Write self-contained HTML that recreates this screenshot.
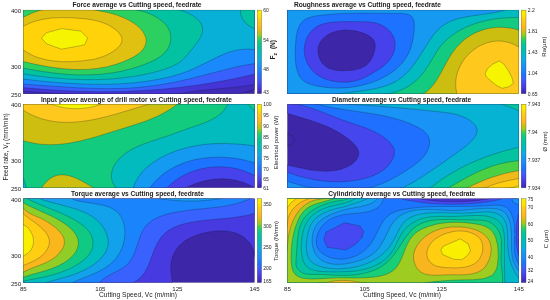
<!DOCTYPE html>
<html><head><meta charset="utf-8"><title>Contour plots</title>
<style>html,body{margin:0;padding:0;background:#fff;overflow:hidden}svg{display:block}text{font-family:"Liberation Sans",Arial,sans-serif}</style>
</head><body>
<svg width="550" height="300" viewBox="0 0 550 300">
<clipPath id="cp1"><rect x="23.3" y="10.1" width="231.2" height="83.6"/></clipPath>
<g clip-path="url(#cp1)" stroke="#101828" stroke-opacity="0.62" stroke-width="0.42" fill-rule="evenodd">
<rect x="22.3" y="9.1" width="233.2" height="85.6" fill="#3e26a8" stroke="none"/>
<path d="M22.7 9.5L255.1 9.5L255.1 89.4L253.3 89.8L241.3 93.5L236.3 94.3L22.7 94.3L22.7 10.1Z" fill="#412bb9"/>
<path d="M22.7 9.5L255.1 9.5L255.1 84.3L250.3 85.2L238.3 86.9L197.3 90.8L188.3 92L179.3 93.6L160.3 94.3L72.3 94.3L66.3 93.7L54.3 93.2L23.3 91.2L22.7 91.4L22.7 10.1Z" fill="#4535d7"/>
<path d="M22.7 9.5L255.1 9.5L255.1 74.1L236.3 78.3L216.6 82.1L198.3 85L179.3 87.4L164.3 89L147.3 90.3L123.3 91.5L99.3 91.7L78.3 91.3L60.3 90.4L43.3 89.3L22.7 87.5L22.7 10.1Z" fill="#3960fd"/>
<path d="M22.7 9.5L255.1 9.5L255.1 63.6L244.3 65.3L234.3 67.4L188.7 79.1L175.1 82.1L164.5 84.1L150.3 86.2L138.3 87.5L126.3 88.3L109.3 88.7L93.3 88.4L76.3 87.7L58.3 86.6L24.3 84.2L22.7 84L22.7 10.1Z" fill="#1a89fb"/>
<path d="M22.7 9.5L255.1 9.5L255.1 49.8L248.3 49.1L242.3 49.3L236.3 50.2L230.3 51.8L225.3 53.6L218.3 56.6L197.1 67.1L188 71.1L182.5 73.1L176.3 75.1L165.3 77.9L151.3 80.6L144.3 81.6L135.3 82.7L119.3 83.9L102.3 84.4L83.3 84.1L64.9 83.1L42.3 81.2L22.7 79L22.7 10.1Z" fill="#08b0d8"/>
<path d="M22.7 9.5L178.3 9.5L184.3 11.5L188.3 13.3L192.3 15.4L196.1 18.1L198.3 20.1L200.8 23.1L202.1 26.1L202.6 29.1L202.5 31.1L201.8 34.1L200.5 37.1L198.8 40.1L194.5 46.1L185.3 57.1L181 61.1L176.6 64.1L170.5 67.1L164.3 69.4L152.3 72.7L139.3 75.5L125.3 77.6L111.3 79L97.3 79.6L82.3 79.6L66.3 78.9L50.3 77.6L35.3 75.7L22.7 73.7L22.7 10.1ZM240.1 9.5L255.1 9.5L255.1 29.2L255.1 28.9L251.3 27.1L248.3 25.2L245.8 23.1L244 21.1L242.3 18.6L241.2 16.1L240.7 14.1L240.3 9.7Z" fill="#02c2a2"/>
<path d="M22.7 9.5L135.3 9.6L137.3 10.3L141.3 11L144.3 11.8L150.3 14L156.3 17L161.3 20.5L164.3 23.1L166.1 25.1L167.5 27.1L168.7 29.1L170.2 33.1L170.6 35.1L170.8 38.1L170.5 41.1L170.1 43.1L169.1 46.1L168.2 48.1L166.3 50.9L164.4 53.1L162.2 55.1L159.5 57.1L156.3 59.1L152.4 61.1L143.3 64.9L133.3 68.2L122 71.1L111.3 73L101.3 74.2L90.3 74.8L78.3 74.9L66.3 74.3L54.3 73.1L40.3 71.2L25.3 68.6L22.7 68L22.7 10.1Z" fill="#2cd061"/>
<path d="M41 10.1L43.3 9.5L92.3 9.5L107.3 12.4L112.3 13.7L116.8 15.1L122.1 17.1L126.6 19.1L130.4 21.1L135.1 24.1L137.7 26.1L140.8 29.1L143.1 32.1L144.8 35.1L145.8 38.1L146.1 40.1L145.9 43.1L145 46.1L143.3 49.1L141.6 51.1L139.4 53.1L136.6 55.1L132.3 57.6L127.2 60.1L122.4 62.1L116.8 64.1L107.3 66.7L97.3 68.4L87.3 69.4L81.3 69.5L75.3 69.5L63.3 68.8L50.3 67.1L34.3 64.1L24.3 61.8L22.7 61.2L22.7 17.6L32.3 12.9L40.3 10.3Z" fill="#e0c010"/>
<path d="M50.9 18.1L61.3 17.6L73.3 17.9L86.3 18.9L91.3 19.7L95.3 20.5L99.3 21.5L103.3 22.9L106.3 24.1L110.2 26.1L113.4 28.1L116 30.1L118.2 32.1L119.9 34.1L121.1 36.1L121.8 38.1L122 40.1L121.7 42.1L120.8 44.1L119.3 46.2L116.3 49.1L113.6 51.1L110.4 53.1L106.5 55.1L103.3 56.4L99.3 57.8L95.3 58.9L91.3 59.7L81.3 61L72.3 61.6L63.3 61.7L54.3 61.1L46.3 59.8L39.3 58L36.3 57L32.3 55.3L26.5 52.1L23.6 50.1L22.7 49.1L22.7 27.1L23.3 26.4L25.7 25.1L30 23.1L35.5 21.1L42.3 19.4L50.3 18.2Z" fill="#ffd20a"/>
<path d="M41.3 38L46.7 32.7L61.6 28.6L80.8 31.1L87.7 38L84.5 44.9L61.6 49.2L46.7 43.9Z" fill="#f6f400" stroke-linejoin="round"/>
</g>
<clipPath id="cp2"><rect x="23.3" y="104.2" width="231.2" height="83.6"/></clipPath>
<g clip-path="url(#cp2)" stroke="#101828" stroke-opacity="0.62" stroke-width="0.42" fill-rule="evenodd">
<rect x="22.3" y="103.2" width="233.2" height="85.6" fill="#3e26a8" stroke="none"/>
<path d="M22.7 103.6L255.1 103.6L255.1 188.4L255.1 188.2L254.3 187.6L248.3 184.4L244.3 182.7L240.3 181.4L236.3 180.3L231.3 179.5L227.3 179L222.3 178.8L218.3 178.9L213.3 179.3L208.3 180.1L203.3 181.1L199.3 182.2L194.3 183.9L188.3 186.5L185.2 188.2L184.3 188.4L22.7 188.4L22.7 104.2Z" fill="#4743ec"/>
<path d="M22.7 103.6L255.1 103.6L255.1 176.3L255.1 175.9L250.3 173.3L246.3 171.7L240.3 169.6L234.3 168.2L227.6 167.2L221.3 166.8L214.3 166.9L208.3 167.5L202.3 168.6L196.3 170.1L190.3 172.2L185.3 174.4L180.1 177.2L175.3 180.4L170.6 184.2L166.3 188.4L22.7 188.4L22.7 104.2Z" fill="#1c73ff"/>
<path d="M22.7 103.6L255.1 103.6L255.1 163.5L255.1 163.1L251.3 161.9L242.3 159.6L233.3 158.1L225.3 157.4L217.3 157.2L209.3 157.5L201.3 158.5L194.3 159.8L187.3 161.7L180.3 164.3L174.3 167L168.3 170.5L163 174.2L158.3 178.2L153.5 183.2L149.3 188.4L22.7 188.4L22.7 104.2Z" fill="#149af0"/>
<path d="M22.7 103.6L255.1 103.6L255.1 146.5L255.1 146.2L252.3 145.6L244.3 144.6L235.3 143.9L224.3 143.5L213.3 143.7L203.3 144.6L194.3 146L185.3 148.1L176.3 150.8L167.7 154.2L160.3 157.9L153.4 162.2L147.3 166.9L142.3 171.9L138.3 177.1L135.4 182.2L133.1 188.2L132.8 188.4L22.7 188.4L22.7 104.2Z" fill="#01bbbf"/>
<path d="M22.7 103.6L228.8 103.6L228.3 103.6L227.7 104.2L224.8 109.2L223.3 111.1L221.2 113.2L219.3 114.9L216.3 117L210.5 120.2L205.9 122.2L199.3 124.7L182.3 130.5L166.9 136.2L150.3 141.6L142.3 144.5L136.3 147.1L132 149.2L128.3 151.4L124.3 154.1L119.7 158.2L116.3 162.2L114.3 165.2L113.3 167.2L111.9 171.2L111.4 175.2L111.5 178.2L111.9 180.2L113 183.2L114.8 186.2L115.9 188.4L26.9 188.4L26.6 188.2L23.5 178.2L22.7 176.2L22.7 104.2ZM246.5 103.6L255.1 103.6L255.1 113.2L255.1 111.8L254.8 111.2L251.1 107.2L247.3 103.7Z" fill="#13cb7f"/>
<path d="M22.7 103.6L179.6 103.6L178.3 103.8L177.3 104.3L171.3 108.5L167.3 111L162.3 113.8L157.3 116.3L146.3 120.9L132.3 125.6L97.3 136.4L89.3 138.7L81.3 140.7L72.3 142.6L65.3 143.7L57.3 144.5L50.3 144.7L42.3 144.4L35.3 143.5L25.3 141.4L22.7 140.2L22.7 104.2ZM57.9 175.2L61.3 174.8L64.3 174.9L68.3 175.5L72.3 176.7L76.3 178.3L81.3 180.7L92.3 187L93.6 188.2L94.1 188.4L42 188.4L42.3 186.9L43.3 185.2L48.3 180L50.3 178.4L53.3 176.7L57.3 175.3Z" fill="#cebe10"/>
<path d="M22.7 103.6L150.5 103.6L149.3 103.8L147.3 104.6L117.3 113.7L107.3 116.4L99.3 118.4L90.3 120.2L82.3 121.4L74.3 122.2L67.3 122.4L58.3 122L50.3 120.9L42.3 119L35.3 116.5L29.3 113.7L22.7 110L22.7 104.2Z" fill="#ffc81c"/>
<path d="M47 103.6L104.2 103.6L102.3 103.8L95.3 106.1L88.3 107.7L82.3 108.4L75.3 108.7L69.3 108.4L64.3 107.8L58.3 106.4L51.3 104.1L49.3 103.6L47.3 103.6Z" fill="#f6f400"/>
</g>
<clipPath id="cp3"><rect x="23.3" y="198.8" width="231.2" height="83.8"/></clipPath>
<g clip-path="url(#cp3)" stroke="#101828" stroke-opacity="0.62" stroke-width="0.42" fill-rule="evenodd">
<rect x="22.3" y="197.8" width="233.2" height="85.8" fill="#3e26a8" stroke="none"/>
<path d="M22.7 198.2L255.1 198.2L255.1 258.3L255.1 257.4L254.3 255.7L253.7 251.8L253.2 249.8L251.9 246.8L250.2 243.8L247.8 240.8L244.5 237.8L241.6 235.8L238.3 234.1L234.8 232.8L230.3 231.7L226.3 231.1L221.3 230.8L216.3 231L211.3 231.6L206.3 232.5L201.1 233.8L197.3 235L192.7 236.8L188.5 238.8L185.1 240.8L182.3 242.9L179.3 245.6L177.3 248L175.4 250.8L173.8 253.8L172.6 256.8L171.5 260.8L171 263.8L170.8 266.8L170.9 269.8L171.3 274.6L172.1 280.8L172.2 282.8L171.9 283.2L22.7 283.2L22.7 198.8Z" fill="#463ae0"/>
<path d="M22.7 198.2L255.1 198.2L255.1 213.1L254.3 213.5L246.3 215.5L237.3 217L229.3 218L203.3 220.4L196.3 221.4L190.3 222.4L183.3 224.1L177.8 225.8L173.1 227.8L168.3 230.6L165.3 232.9L162.4 235.8L160.1 238.8L157.6 242.8L154.3 249.8L148.3 265.7L146.3 269.7L144.3 273L141.3 276.7L138.3 279.4L134.3 282.1L131.3 283.2L22.7 283.2L22.7 198.8Z" fill="#3961fd"/>
<path d="M22.7 198.2L251.3 198.2L248.3 199.7L241.3 202.2L236.3 203.7L230.3 205.1L224.3 206.2L217.3 207.2L190.3 210L177.3 211.9L170.3 213.3L164.8 214.8L159.3 216.8L155 218.8L151.3 221.1L148.3 223.5L145.3 226.8L143.3 229.7L141.7 232.8L140.3 235.9L135.6 249.8L133.6 254.8L131 259.8L128.3 263.4L125.8 265.8L123.1 267.8L119.3 270L109.8 274.8L106.3 276.8L103.3 278.8L100.3 281.8L99.3 282.5L98.3 283L97.3 283.2L22.7 283.2L22.7 198.8Z" fill="#1a84fd"/>
<path d="M22.7 198.2L69.3 198.2L71.3 198.7L76.3 200.4L79.3 201.2L99.3 204.4L103.3 205.3L107.3 206.4L111.3 208.1L115.3 210.5L118 212.8L120.4 215.8L122.6 219.8L123.9 223.8L124.7 227.8L125 232.8L124.5 238.8L123.2 244.8L122.1 247.8L120.8 250.8L117.9 255.8L115.6 258.8L113.9 260.8L109.5 264.8L104.3 268.4L98.3 271.7L92.3 274.4L78.8 279.8L72.3 282.6L70.3 283.2L22.7 283.2L22.7 198.8ZM155.9 198.2L223.1 198.2L222.3 198.2L218.3 199.1L207.3 200.3L198.3 200.9L188.3 201.1L180.3 200.8L172.3 200.3L162.3 199.1L157.3 198.2L156.3 198.2Z" fill="#12a1eb"/>
<path d="M22.7 198.2L38.3 198.2L39.3 198.4L43.3 200L49.1 201.8L68.3 206.8L75.3 208.9L80.8 210.8L87.6 213.8L92.6 216.8L96.3 219.6L99.7 222.8L102.3 226L104.7 229.8L106.9 234.8L107.9 238.8L108.3 242.8L107.8 246.8L106.3 250.8L104.3 254.3L101.5 257.8L97.3 261.8L93.3 264.8L88.6 267.8L82.9 270.8L77.3 273.2L70.3 275.7L45.3 282.8L42.3 283.2L22.7 283.2L22.7 198.8Z" fill="#01bcbd"/>
<path d="M22.7 198.2L26.3 198.3L31.3 200.8L38.3 203.9L59.3 212.4L69.3 217L77.3 221.5L81.3 224.3L84.5 226.8L87.3 229.6L89.2 231.8L90.5 233.8L91.9 236.8L92.7 239.8L93 242.8L92.8 245.8L92.1 248.8L90.8 251.8L88.8 254.8L86.1 257.8L82.7 260.8L79.3 263.3L75.2 265.8L71.4 267.8L66.3 270.1L61.3 272.1L55.3 274.1L45.3 276.7L25 280.8L22.7 281.5L22.7 198.8Z" fill="#10ca83"/>
<path d="M22.7 202.8L22.7 202.2L23.3 202.8L29.3 206L53 216.8L59.3 220.2L64.9 223.8L67.6 225.8L71 228.8L73.8 231.8L75.3 233.8L76.5 235.8L77.4 237.8L78 239.8L78.4 242.8L78.1 245.8L77.2 248.8L75.8 251.8L74.4 253.8L72.3 256.2L69.5 258.8L66.9 260.8L63.9 262.8L58.4 265.8L51.3 268.8L45.2 270.8L29.3 275.3L22.7 277.4L22.7 203.8Z" fill="#90cd26"/>
<path d="M22.7 207.8L22.7 207.5L22.8 207.8L26.3 211.2L29.3 213.2L32.5 214.8L40.3 218.1L44.3 220.1L50.3 223.8L55.7 227.8L59.8 231.8L62.1 234.8L63.3 236.8L64 238.8L64.4 241.8L64.3 243.8L63.8 245.8L63 247.8L61.9 249.8L58.7 253.8L56.7 255.8L54.3 257.8L50.3 260.4L45.6 262.8L41.3 264.6L30.2 268.8L27.3 270.1L22.7 272.5L22.7 208.8Z" fill="#f9b71d"/>
<path d="M22.7 213.8L22.7 213.2L27.3 217.1L36.5 223.8L40.2 226.8L43.4 229.8L46 232.8L47.9 235.8L49.1 238.8L49.5 241.8L49.1 244.8L48.4 246.8L47.5 248.8L46.3 250.8L44.8 252.8L41.8 255.8L39.3 257.8L35.3 260.2L32.1 261.8L22.8 265.8L22.7 266L22.7 214.8Z" fill="#ffcd12"/>
<path d="M22.7 223.8L22.7 223.5L22.7 223.8L23.3 224.4L27.3 227.3L28.7 228.8L30.3 230.9L31.4 232.8L32.7 235.8L33.2 237.8L33.5 240.8L33.3 243.8L32.9 245.8L32.1 247.8L31 249.8L29.4 251.8L28.3 252.9L26.3 254.3L22.7 256.4L22.7 224.8Z" fill="#f8f000"/>
</g>
<clipPath id="cp4"><rect x="287.4" y="10.1" width="231.4" height="83.6"/></clipPath>
<g clip-path="url(#cp4)" stroke="#101828" stroke-opacity="0.62" stroke-width="0.42" fill-rule="evenodd">
<rect x="286.4" y="9.1" width="233.4" height="85.6" fill="#3e26a8" stroke="none"/>
<path d="M286.8 9.5L519.4 9.5L519.4 94.3L286.8 94.3L286.8 10.1ZM337.4 31L332.4 32.5L329.4 33.9L327.3 35.1L325.4 36.5L323.4 38.2L321.7 40.1L320.3 42.1L319.3 44.1L318.5 46.1L318.1 48.1L317.9 51.1L318.1 53.1L318.7 56.1L320.3 60.1L322.4 63.4L325.1 66.1L328.4 68.2L332.4 69.6L337.4 70.4L342.4 70.7L350.4 70.4L356.4 69.6L361.4 68.1L365.1 66.1L366.5 65.1L368.4 63.2L370.8 60.1L371.9 58.1L373.2 55.1L374.2 52.1L374.9 49.1L375.2 47.1L375.2 45.1L374.9 43.1L374.2 41.1L373.4 39.8L371.9 38.1L369.4 36.1L365.6 34.1L360.1 32.1L354.4 30.8L349.4 30.2L344.4 30.1L338.4 30.8Z" fill="#4741eb"/>
<path d="M286.8 9.5L519.4 9.5L519.4 94.3L286.8 94.3L286.8 10.1ZM333.4 22L326.3 23.1L322.5 24.1L319.4 25.3L317.4 26.3L314.7 28.1L312.4 30.1L310.4 32.3L308.4 35.1L306.8 38.1L305.7 41.1L304.9 44.1L304.4 47.1L304.2 50.1L304.4 53.1L305.1 57.1L306 60.1L307.3 63.1L308.4 65.2L310.3 68.1L312.4 70.7L314.4 72.6L316.4 74.2L319.4 76.2L322.4 77.8L325.4 79.1L328.4 80.1L332.4 81.1L339.4 82.1L343.4 82.2L348.4 82L352.4 81.5L356.4 80.6L360.4 79.4L363.6 78.1L371.1 74.1L377.9 70.1L382.3 67.1L385.8 64.1L388.7 61.1L390.9 58.1L392.6 55.1L393.8 52.1L394.7 49.1L395.1 46.1L395.1 43.1L394.6 40.1L393.6 37.1L392.6 35.1L390.5 32.1L388.7 30.1L386.4 28.1L383.5 26.1L380.4 24.5L377.4 23.4L372.4 22.3L366.4 21.8L344.4 21.6L334.4 22Z" fill="#1d72ff"/>
<path d="M286.8 9.5L519.4 9.5L519.4 94.3L286.8 94.3L286.8 10.1ZM358.4 13.1L343.4 13.4L330.4 14.3L317.4 15.7L313.4 16.4L310.4 17.2L307.8 18.1L305.7 19.1L303.4 20.7L302 22.1L300.5 24.1L299.3 26.1L298 29.1L297.1 32.1L296.2 37.1L295.5 45.1L295.2 53.1L295.5 61.1L296.1 66.1L297.3 71.1L298.9 75.1L300.8 78.1L302.7 80.1L305.4 82.1L308.4 83.5L312.4 84.8L318.4 86.2L325.4 87.3L332.4 88L338.4 88.1L344.4 87.9L351.4 87.2L357.4 86.3L363.4 84.9L369.8 83.1L375.4 81.1L381.4 78.5L386.4 75.8L390.8 73.1L395.4 69.7L399.3 66.1L402.4 62.8L405.2 59.1L407.7 55.1L409.6 51.1L411.3 46.1L412.6 41.1L413.6 35.1L414.3 29.1L414.3 25.1L414.1 22.1L413.2 19.1L412.1 17.1L410.4 15.5L408.4 14.5L406.9 14.1L404.4 13.7L401.4 13.4L359.4 13.1Z" fill="#1599f1"/>
<path d="M504.5 10.1L506.4 9.5L519.4 9.5L519.4 94.3L334.6 94.3L338.4 94.3L345.1 93.1L364.4 90.6L373.4 89L379.4 87.7L384.4 86.3L389.4 84.5L393.4 82.7L397.4 80.5L401.4 77.8L405.6 74.1L409.5 70.1L413.6 65.1L417.1 60.1L429.2 41.1L433.4 35.1L435.8 32.1L438.7 29.1L441.4 26.7L444.4 24.5L447.4 22.8L451.4 20.9L455.4 19.5L460.4 18.1L469.4 16.3L492.4 13L499.4 11.6L504.4 10.1Z" fill="#01bbc1"/>
<path d="M502.3 18.1L510.4 17.6L519.4 17.4L519.4 94.3L383.2 94.3L387.4 94.2L394.4 92.4L400.4 90.3L404.4 88.5L408.4 86.3L411.7 84.1L415.4 81.2L420.4 76.3L424.6 71.1L428.6 65.1L436.4 52.1L438.4 49.1L441.4 45.3L444.4 42L448.4 38.3L452.5 35.1L456.4 32.4L461.4 29.5L466.3 27.1L471.4 25L476.8 23.1L482.4 21.5L488.6 20.1L494.4 19.1L501.4 18.2Z" fill="#12cb81"/>
<path d="M490.3 28.1L497.4 27.3L504.4 27.4L511.4 28.3L514.8 29.1L519.4 30.4L519.4 94.3L421.7 94.3L423.4 94.1L427.4 91.1L430.5 88.1L433.9 84.1L436.4 80.5L439.4 75.6L447.8 60.1L451.4 54.1L455.8 48.1L460.4 43.2L463.4 40.5L466.5 38.1L469.5 36.1L473.4 33.8L477.4 31.9L481.4 30.4L485.4 29.2L489.4 28.3Z" fill="#ccbe10"/>
<path d="M496.2 41.1L499.4 41L502.4 41.2L505.4 41.7L508.4 42.4L511.4 43.4L514.4 44.6L519.4 47.5L519.4 94.3L456.9 94.3L456.8 93.1L456 89.1L455.7 85.1L455.8 81.1L456.3 77.1L457.4 72.7L459.1 68.1L461.1 64.1L463.6 60.1L466.4 56.6L469.7 53.1L473.4 50L477.6 47.1L481.4 45L486.4 43L491.4 41.7L495.4 41.2Z" fill="#ffc81c"/>
<path d="M485.1 73.6L487.5 68.7L493.1 63.8L499.4 61L503.6 63.8L508.5 70.8L512 77.8L513.4 83.4L508.5 86.9L502.2 88.3L496.6 85.5L489.6 79.9L486.1 76.4Z" fill="#f6f400" stroke-linejoin="round"/>
</g>
<clipPath id="cp5"><rect x="287.4" y="104.2" width="231.4" height="83.6"/></clipPath>
<g clip-path="url(#cp5)" stroke="#101828" stroke-opacity="0.62" stroke-width="0.42" fill-rule="evenodd">
<rect x="286.4" y="103.2" width="233.4" height="85.6" fill="#3e26a8" stroke="none"/>
<path d="M286.8 103.6L519.4 103.6L519.4 188.4L286.8 188.4L286.8 164.8L288.4 165.3L303.4 168.6L310.4 169.9L315.4 170.6L321.4 171.1L326.4 171.2L331.4 170.9L336.4 170.3L341.2 169.2L344.4 168.1L348.6 166.2L351.8 164.2L354.2 162.2L356.8 159.2L358.3 156.2L358.6 155.2L358.8 153.2L358.5 151.2L357.3 148.2L355.9 146.2L353.3 143.2L350 140.2L346.1 137.2L341.7 134.2L336.6 131.2L328.4 127.1L317.4 122.7L308.4 119.7L286.8 113.2L286.8 104.2Z" fill="#4646ee"/>
<path d="M291.9 103.6L519.4 103.6L519.4 188.4L286.8 188.4L286.8 172.3L297.4 175.7L306.4 178.1L315.4 179.9L323.4 181L332.4 181.7L340.4 181.8L349.1 181.2L357.4 180.1L365.4 178.3L372 176.2L378.4 173.2L383.2 170.2L385.6 168.2L387.6 166.2L390.8 162.2L392.5 159.2L393.4 157.2L394.1 155.2L394.4 153.2L394.3 150.2L393.7 148.2L392.1 145.2L389.6 142.2L386.3 139.2L382.4 136.3L379 134.2L374.4 131.7L369.4 129.4L364.4 127.5L341.4 119.6L320 111.2L311.5 108.2L301.4 105.3L293.4 103.6L292.4 103.6Z" fill="#1f70ff"/>
<path d="M314.7 103.6L519.4 103.6L519.4 188.4L365.4 188.4L368.4 188.3L375.4 186.1L383 183.2L390.4 179.8L397 176.2L405.2 171.2L414.1 165.2L419.2 161.2L422.3 158.2L424.8 155.2L426.8 152.2L428.5 148.2L429.5 144.2L429.6 141.2L429 138.2L427.6 135.2L426 133.2L423.4 130.8L420.4 128.7L416.4 126.5L411.4 124.2L406.4 122.2L400.6 120.2L394.4 118.4L385.6 116.2L375.3 114.2L346.4 109.9L332.4 107.6L324.4 105.9L317.4 104.3L315.4 103.6ZM286.8 181.2L302.4 185.9L315.4 188.3L319.4 188.4L286.8 188.4L286.8 182.2Z" fill="#1993f5"/>
<path d="M345.7 103.6L519.4 103.6L519.4 188.4L399.7 188.4L401.4 188.4L404.4 187.1L413.3 182.2L422.4 176.7L437.9 166.2L460.5 150.2L465.8 146.2L469.2 143.2L472.2 140.2L474.7 137.2L475.9 135.2L477 132.2L477.2 130.2L476.7 128.2L475.8 126.2L474.3 124.2L472.2 122.2L469.5 120.2L466.2 118.2L462.4 116.5L458.7 115.2L455 114.2L450.1 113.2L440.4 111.9L400.4 107.9L373.4 105.7L350.4 104.3L346.4 103.6Z" fill="#06b3d2"/>
<path d="M500 103.6L519.4 103.6L519.4 111.6L519.4 111.1L510.5 107.2L500.4 103.6ZM518.9 147.2L519.4 147L519.4 146.5L519.4 188.4L428.2 188.4L429.4 188.4L440.4 180.3L451.4 173.2L461.4 167.6L471.4 162.8L483.4 157.8L494.4 153.9L505.4 150.6L518.4 147.4Z" fill="#03c3a0"/>
<path d="M514 161.2L519.4 160.7L519.4 160.5L519.4 188.4L446.9 188.4L448.3 188.2L459.4 181.6L470.4 175.5L477.4 172.1L484.4 169.1L492.4 166.1L499.4 164L506.4 162.4L513.4 161.3Z" fill="#4ad045"/>
<path d="M515.8 171.2L519.4 170.6L519.4 170.4L519.4 188.4L464.9 188.4L466.4 188.3L473.4 184.9L480.4 181.8L486.4 179.3L493.4 176.8L504.4 173.6L511.4 172L515.4 171.3Z" fill="#f0ba19"/>
<path d="M519.4 178.2L519.4 188.4L482.8 188.4L484.4 188.3L490.4 185.6L498.4 183L504.4 181.5L519.4 178.3Z" fill="#ffce11"/>
<path d="M517.2 186.2L519.4 185.6L519.4 185.4L519.4 188.4L505.4 188.4L509.4 188.3L516.4 186.4Z" fill="#f6f400"/>
<path d="M287.4 133L292 135.5L294.5 139.5L293 143.5L287.4 146.5Z" fill="none" stroke-linejoin="round"/>
</g>
<clipPath id="cp6"><rect x="287.4" y="198.8" width="231.4" height="83.8"/></clipPath>
<g clip-path="url(#cp6)" stroke="#101828" stroke-opacity="0.62" stroke-width="0.42" fill-rule="evenodd">
<rect x="286.4" y="197.8" width="233.4" height="85.8" fill="#3e26a8" stroke="none"/>
<path d="M286.8 198.2L442.4 198.2L448.4 198.6L455.4 198.5L461.4 198.7L468.4 198.2L519.4 198.2L519.4 283.2L286.8 283.2L286.8 198.8Z" fill="#4430ca"/>
<path d="M286.8 198.2L418.4 198.2L419.8 198.8L421.4 199.2L433.4 200.7L444.4 201.6L454.4 201.8L466.4 201.5L476.4 200.7L488.4 199L491.4 198.2L519.4 198.2L519.4 225.1L519 226.8L518.8 228.8L519.1 230.8L519.4 231.4L519.4 238.2L519 238.8L518.7 239.8L518.6 241.8L519.4 246L519.4 283.2L286.8 283.2L286.8 198.8Z" fill="#4649f1"/>
<path d="M286.8 198.2L400.4 198.2L402.4 199.2L403.4 199.5L421.4 202.5L430.4 203.4L440.4 204L453.4 204.3L467.4 203.9L481.4 202.7L490.4 201.4L499.4 199.6L501.4 199L503.4 198.2L519.4 198.2L519.4 212.8L518.6 213.8L518 215.8L516.2 226.8L516.3 229.8L515.9 231.8L516.7 234.8L516 236.8L515.9 237.8L516.1 242.8L516.7 246.8L518.2 253.8L519.4 257.3L519.4 283.2L286.8 283.2L286.8 198.8Z" fill="#1c75ff"/>
<path d="M286.8 198.2L384.3 198.2L383.8 198.8L381.9 202.8L380.4 205L377.4 207.8L374.4 209.6L370.4 211.1L365.4 212.2L360.4 212.9L346.4 214.2L342.4 214.9L337.4 216.2L333.1 217.8L329.4 219.7L327.8 220.8L324.2 223.8L321.4 227L319.6 229.8L318.1 232.8L317.1 235.8L316.4 238.7L316.2 241.8L316.4 243.8L316.8 245.8L317.6 247.8L319.4 250.6L321.4 252.6L323.4 254.1L326.4 255.9L329.4 257.2L332.4 258.1L335.5 258.8L339.4 259.2L342.4 259.2L346.1 258.8L349.4 258.1L353.4 256.9L356.1 255.8L359.4 254.1L364.2 250.8L368.4 246.8L371.5 242.8L374.4 237.8L381 224.8L382.8 221.8L385 218.8L387.4 216.4L390.4 214.1L394.4 212.1L397.4 211L402.4 209.7L410.4 208.4L418.4 207.4L427.4 206.8L441.4 206.5L467.4 206.4L481.4 206L496.4 205.1L499.4 205.3L502.4 205.8L504.4 206.4L506.4 207.6L508.8 209.8L510.2 211.8L511.3 213.8L513.2 218.8L514.4 224.5L514.4 226.8L514.6 228.8L514.3 231.8L514.8 233.8L514.2 243.8L514.4 248.8L514.7 252.8L515.4 256.2L516.4 259.5L517.9 262.8L519.4 265.3L519.4 283.2L286.8 283.2L286.8 198.8ZM512.1 198.2L519.4 198.2L519.4 204.8L518.4 204.7L514.4 203.1L513.4 202.5L512.4 200.8L512 198.8Z" fill="#1a8ef8"/>
<path d="M286.8 198.2L378 198.2L376.4 200L374.4 201.5L371.4 203.2L367.4 204.8L361.4 206.4L348.4 208.8L343.4 210L337.7 211.8L330.4 214.6L326 216.8L321.4 219.8L318.2 222.8L316 225.8L314.4 228.8L313.3 231.8L312.6 234.8L312.2 238.8L312.2 242.8L312.8 246.8L314 250.8L315 252.8L316.4 255.2L318.7 257.8L321.1 259.8L323.4 261.2L326.4 262.6L329.4 263.5L332.4 264.1L335.4 264.3L340.4 264.3L344.4 264L349.4 263.2L354.4 262.1L359.4 260.6L364.3 258.8L368.4 256.8L371.7 254.8L374.3 252.8L376.5 250.8L378.2 248.8L380.4 245.8L383.9 239.8L390.4 226.8L392.2 223.8L394.5 220.8L397.4 217.8L400 215.8L403.5 213.8L408.4 211.8L413.4 210.5L417.4 209.8L425.4 209.4L434.4 209.6L446.4 210.3L454.4 210.6L462.4 210.2L478.4 208.7L487.4 208.3L494.4 208.6L496.4 208.8L499.4 209.5L502.5 210.8L504 211.8L505.4 213.1L507.4 215.8L508.4 217.9L509.5 220.8L510.7 225.8L511.2 229.8L511.2 231.8L511.5 233.8L511.4 235.8L511.5 237.8L511.4 240.8L511.5 249.8L512.3 256.8L513.3 260.8L514.9 264.8L516.5 267.8L519.4 271.8L519.4 283.2L286.8 283.2L286.8 198.8Z" fill="#11a5e8"/>
<path d="M286.8 198.2L368.5 198.2L367.4 198.5L364.4 200L360.4 201.6L348.4 205.4L344.4 206.9L337.4 208.3L332.4 209.7L328.4 211L324.4 212.7L320.4 214.8L316.4 217.8L313.4 220.8L312 222.8L310.8 224.8L309.1 228.8L308 232.8L307 237.8L306.5 242.8L306.3 247.8L306.7 251.8L307.4 255.2L308.4 257.8L309.7 259.8L311.4 261.8L314.1 263.8L316.4 265L319.4 266.2L323.4 267.4L328.4 268.3L333.4 268.8L337.4 268.9L342.4 268.7L350.4 267.9L356 266.8L361.4 265.4L367.4 263.3L372.4 261L376.4 258.7L379.4 256.6L384 252.8L387.4 249.3L389.4 246.9L391.4 244L393.4 240.7L400 227.8L401.9 224.8L403.6 222.8L405.4 220.9L408.4 218.7L411.4 217L415.4 215.4L419.4 214.3L423.4 213.6L428.4 213.1L433.4 212.8L442.4 212.7L456.4 213.1L465.4 213.1L470.4 212.9L481.4 212L486.4 211.8L491.4 212.1L495.4 212.9L497.4 213.7L499.4 214.8L501.9 216.8L503.4 218.4L504.3 219.8L505.8 222.8L506.9 226.8L507.4 230.3L507.9 247.8L508.4 252.8L509.3 257.8L510.8 262.8L511.8 265.8L513.1 268.8L515.3 272.8L517.7 276.8L519.4 278.8L519.4 283.2L286.8 283.2L286.8 198.8Z" fill="#02b8c7"/>
<path d="M286.8 198.2L357.6 198.2L356.4 198.4L351.2 200.8L346.4 202.7L342.4 203.7L334.4 205.3L330.4 206.3L325.4 208L321.4 209.6L317.3 211.8L313.4 214.5L310.4 217.3L307.7 220.8L306 223.8L304.6 226.8L303.4 230.4L302.4 234.6L301.8 238.8L301.4 242.8L301.3 247.8L301.5 251.8L301.8 254.8L302.4 258.1L303.4 261.4L304.4 263.4L305.4 265L307.1 266.8L309.4 268.4L311.4 269.4L316.3 270.8L320.4 271.4L324.4 271.7L335.4 271.9L344.4 271.7L352.4 271.3L358.4 270.5L362.6 269.8L369.4 268L374.4 266L377.4 264.5L380.4 262.8L384.4 259.9L387.4 257.2L390.4 253.9L392.7 250.8L394.5 247.8L400.4 235.8L402.2 232.8L404.4 229.9L407.4 226.8L410.4 224.4L413.4 222.4L417.4 220.3L421.2 218.8L424.7 217.8L429.4 217L433.4 216.6L438.4 216.4L453.4 216.5L474.4 215.5L482.4 215.6L486.4 216.1L490.4 217L493.4 218L496.4 219.5L498.4 220.9L500.4 223L501.6 224.8L502.9 227.8L504 232.8L504.5 237.8L504.5 270.8L504.8 278.8L505.1 282.8L505.4 283.2L286.8 283.2L286.8 198.8Z" fill="#02c2a3"/>
<path d="M286.8 198.2L349.2 198.2L348.4 198.2L344.4 200L336.4 201.1L328.4 203.1L323.2 204.8L318.5 206.8L315.4 208.4L312.4 210.3L308.4 213.4L305.2 216.8L302.4 220.8L301 223.8L299.9 226.8L298.8 230.8L298.1 234.8L297.2 242.8L295.9 263.8L296.2 265.8L296.5 266.8L297.4 268.5L298.4 269.8L300.7 271.8L302.4 272.8L304.4 273.7L306.4 274.1L309.4 274.4L320.4 274.4L336.4 275.3L345.4 275.4L353.4 275L357.4 274.5L363.4 273.5L368.4 272.2L374.4 270.1L378.4 268.2L381.4 266.5L384.4 264.4L388.4 261.1L390.6 258.8L393.9 254.8L398.1 248.8L405.3 237.8L410 231.8L412.9 228.8L415.4 226.8L417.4 225.4L420.4 223.8L424.4 222.2L429.4 220.8L435.4 219.9L439.4 219.6L449.4 219.4L466.4 219.9L479.4 220.1L483.4 220.4L486.4 221L488.9 221.8L491.4 223.1L493.7 224.8L496.4 227.6L498 229.8L499.6 232.8L500.8 236.8L501.4 241.6L501.4 246.8L501 258.8L501.2 263.8L502.4 274.8L502.5 278.8L502.4 282.8L502.2 283.2L286.8 283.2L286.8 198.8Z" fill="#18ce76"/>
<path d="M286.8 198.2L336.8 198.2L335.4 198.2L329.4 200.1L316.4 203.7L312.4 205.2L309.4 206.7L306.4 208.7L303.2 211.8L300.4 215.7L297.8 220.8L295.9 225.8L294.3 230.8L293.2 235.8L292.3 240.8L291.7 244.8L291.2 251.8L291.1 257.8L291.3 262.8L291.8 266.8L292.2 268.8L292.9 270.8L294 272.8L295.4 274.5L297 275.8L298.8 276.8L301.4 277.8L305.4 278.6L311.4 279L316.4 278.9L337.4 277.8L355.4 277.9L365.4 277.7L372.4 277.2L377.4 276.6L381.4 275.8L386.4 274.3L389.7 272.8L392.9 270.8L395.4 268.5L397.4 266L399.4 262.8L401.4 258.6L405.7 247.8L408.4 242.1L409.7 239.8L411.4 237.4L414.7 233.8L417.4 231.7L420.4 229.9L423.4 228.4L427.4 226.8L435.4 224.4L439.4 223.6L444.4 222.9L449.4 222.4L457.4 222.3L465.4 222.7L474.4 223.7L480.3 224.8L484.4 226.1L488 227.8L490.4 229.6L492.5 231.8L494.4 234.8L495.7 237.8L496.6 240.8L497.5 244.8L498 249.8L498.2 254.8L498 259.8L497.4 265.3L496.8 267.8L496.1 269.8L494.9 271.8L493.4 273.8L492.9 274.8L492.4 275.3L491.4 275.8L490.4 276L486.4 277.8L484.4 278.4L480.4 279.1L473.4 279.7L457.4 280L446.4 280.6L434.4 281.6L422.4 283.2L286.8 283.2L286.8 198.8Z" fill="#9ecc21"/>
<path d="M286.8 198.2L326.7 198.2L325.4 198.2L315.4 200L312.4 200.9L308.4 202.7L305.4 204.6L302.6 206.8L299.7 209.8L298.1 211.8L295.5 215.8L293.4 219.8L292.4 222.1L290.4 227.8L289.4 231.8L288.4 236.8L287.5 244.8L286.9 247.8L286.8 250.4L286.8 198.8ZM445.3 227.8L451.4 227L459.4 226.9L465.4 227.4L469.4 228.1L473.4 229.1L476.4 230.1L479.4 231.5L483.2 233.8L486.5 236.8L488.7 239.8L489.7 241.8L490.6 244.8L490.9 246.8L491.1 249.8L491 251.8L490.4 255.8L488.7 260.8L487.2 263.8L485.4 266.5L484.3 267.8L482 269.8L480.4 270.9L477.4 272.3L472.4 273.8L468.4 274.4L463.4 274.8L449.4 274.8L435.4 275.3L429.4 274.9L426.4 274.4L424.4 273.8L421.4 272.4L419.4 270.9L418.3 269.8L416.1 266.8L415.1 264.8L414.1 261.8L413.6 258.8L413.5 255.8L414 252.8L414.9 249.8L416.3 246.8L418.3 243.8L419.9 241.8L422.7 238.8L425.4 236.5L429.3 233.8L432.9 231.8L436.4 230.3L440.4 228.9L444.4 228ZM335.2 280.8L341.4 280.4L348.4 280.6L355.4 281.5L364.4 283.2L367.5 283.2L318.3 283.2L322.4 283.2L334.4 280.9Z" fill="#f8b61e"/>
<path d="M286.8 198.2L311 198.2L310.4 198.2L304.4 200.4L300.4 202.5L296 205.8L292.4 209.6L289.8 213.8L288.4 217.2L287.8 219.8L287.5 223.8L286.8 226.8L286.8 227.4L286.8 198.8ZM451.8 231.8L456.4 231.1L461.4 231L464.4 231.2L467.4 231.7L471.1 232.8L475.5 234.8L478.2 236.8L480.1 238.8L481.7 241.8L482.3 243.8L482.7 245.8L482.7 249.8L481.9 253.8L480.2 257.8L478 260.8L476.4 262.3L474.4 263.8L470.4 265.7L466.4 266.8L460.4 267.7L454.4 267.9L444.4 267.5L438.4 266.6L435.4 265.7L433.6 264.8L432.1 263.8L430.4 262.3L429.4 261.1L428.4 259.6L427.6 257.8L427 255.8L426.9 253.8L427 251.8L427.5 249.8L428.2 247.8L429.1 245.8L430.4 243.8L432.1 241.8L435.5 238.8L440.4 235.8L445.4 233.6L451.4 231.9Z" fill="#ffce10"/>
<path d="M286.8 198.2L297.7 198.2L296 198.8L291 202.8L287.2 207.8L286.8 208.9L286.8 198.8Z" fill="#f9ef00"/>
<path d="M440.8 250.1L443.3 246.2L460.3 238.8L468.2 243.9L470.5 250.7L467.7 255.2L462 259.7L453.5 259.2L442.8 254.7Z" fill="#f9ef00" stroke-linejoin="round"/>
<path d="M324 238.7L326 232L344.7 222.7L360 226L363.7 231.3L362 237.3L356 244L346 250L327.3 247.3L324.7 242Z" fill="#4649f1" stroke-linejoin="round"/>
</g>
<defs><linearGradient id="pg" x1="0" y1="1" x2="0" y2="0"><stop offset="0.0000" stop-color="#3e26a8"/><stop offset="0.0500" stop-color="#4532d2"/><stop offset="0.0950" stop-color="#4740ea"/><stop offset="0.1400" stop-color="#4550f6"/><stop offset="0.1800" stop-color="#3862fe"/><stop offset="0.2270" stop-color="#1c72ff"/><stop offset="0.2900" stop-color="#1a88fc"/><stop offset="0.3300" stop-color="#1a92f6"/><stop offset="0.3600" stop-color="#149af0"/><stop offset="0.4000" stop-color="#10a8e6"/><stop offset="0.4300" stop-color="#08b0d8"/><stop offset="0.4700" stop-color="#02b8c8"/><stop offset="0.5000" stop-color="#00beb8"/><stop offset="0.5300" stop-color="#00c0aa"/><stop offset="0.5660" stop-color="#04c49c"/><stop offset="0.6000" stop-color="#0cc88a"/><stop offset="0.6360" stop-color="#1cd070"/><stop offset="0.6710" stop-color="#50d040"/><stop offset="0.7070" stop-color="#a0cc20"/><stop offset="0.7420" stop-color="#ccbe10"/><stop offset="0.7650" stop-color="#e0c010"/><stop offset="0.7850" stop-color="#f8b61e"/><stop offset="0.8140" stop-color="#ffbc18"/><stop offset="0.8490" stop-color="#ffc414"/><stop offset="0.8720" stop-color="#ffc81c"/><stop offset="0.9000" stop-color="#ffd20a"/><stop offset="0.9200" stop-color="#ffe000"/><stop offset="0.9550" stop-color="#ffe800"/><stop offset="0.9900" stop-color="#f8f000"/><stop offset="1.0000" stop-color="#f6f400"/></linearGradient></defs>
<g fill="#1c1c1c">
<text x="137.0" y="6.7" font-size="6.6" text-anchor="middle" font-weight="bold">Force average vs Cutting speed, feedrate</text>
<text x="136.4" y="101.9" font-size="6.6" text-anchor="middle" font-weight="bold">Input power average of drill motor vs Cutting speed, feedrate</text>
<text x="137.4" y="196.1" font-size="6.6" text-anchor="middle" font-weight="bold">Torque average vs Cutting speed, feedrate</text>
<text x="367.4" y="6.7" font-size="6.6" text-anchor="middle" font-weight="bold">Roughness average vs Cutting speed, feedrate</text>
<text x="401.6" y="101.9" font-size="6.6" text-anchor="middle" font-weight="bold">Diameter average vs Cutting speed, feedrate</text>
<text x="401.8" y="196.1" font-size="6.6" text-anchor="middle" font-weight="bold">Cylindricity average vs Cutting speed, feedrate</text>
<text x="21.2" y="13.3" font-size="6.15" text-anchor="end">400</text>
<text x="21.2" y="69.0" font-size="6.15" text-anchor="end">300</text>
<text x="21.2" y="96.9" font-size="6.15" text-anchor="end">250</text>
<text x="21.2" y="107.4" font-size="6.15" text-anchor="end">400</text>
<text x="21.2" y="163.1" font-size="6.15" text-anchor="end">300</text>
<text x="21.2" y="191.0" font-size="6.15" text-anchor="end">250</text>
<text x="21.2" y="202.0" font-size="6.15" text-anchor="end">400</text>
<text x="21.2" y="257.9" font-size="6.15" text-anchor="end">300</text>
<text x="21.2" y="285.8" font-size="6.15" text-anchor="end">250</text>
<text x="23.3" y="290.7" font-size="6.15" text-anchor="middle">85</text>
<text x="100.4" y="290.7" font-size="6.15" text-anchor="middle">105</text>
<text x="177.4" y="290.7" font-size="6.15" text-anchor="middle">125</text>
<text x="254.5" y="290.7" font-size="6.15" text-anchor="middle">145</text>
<text x="287.4" y="290.7" font-size="6.15" text-anchor="middle">85</text>
<text x="364.5" y="290.7" font-size="6.15" text-anchor="middle">105</text>
<text x="441.7" y="290.7" font-size="6.15" text-anchor="middle">125</text>
<text x="518.8" y="290.7" font-size="6.15" text-anchor="middle">145</text>
<text x="138.0" y="297.3" font-size="6.65" text-anchor="middle">Cutting Speed, Vc (m/min)</text>
<text x="402.0" y="297.3" font-size="6.65" text-anchor="middle">Cutting Speed, Vc (m/min)</text>
<text x="8.2" y="180.6" font-size="6.6" transform="rotate(-90 8.2 180.6)">Feed rate, V<tspan font-size="5.2" dy="1.8">f</tspan><tspan dy="-1.8"> (mm/min)</tspan></text>
<rect x="257.3" y="10.1" width="4.3" height="83.6" fill="url(#pg)" stroke="#333" stroke-width="0.3"/>
<text x="263.3" y="12.3" font-size="5">60</text>
<text x="263.3" y="41.8" font-size="5">54</text>
<text x="263.3" y="71.3" font-size="5">48</text>
<text x="263.3" y="93.9" font-size="5">43</text>
<rect x="257.3" y="104.2" width="4.3" height="83.6" fill="url(#pg)" stroke="#333" stroke-width="0.3"/>
<text x="263.3" y="106.4" font-size="5">100</text>
<text x="263.3" y="117.1" font-size="5">95</text>
<text x="263.3" y="127.8" font-size="5">90</text>
<text x="263.3" y="138.6" font-size="5">85</text>
<text x="263.3" y="149.3" font-size="5">80</text>
<text x="263.3" y="160.0" font-size="5">75</text>
<text x="263.3" y="170.7" font-size="5">70</text>
<text x="263.3" y="181.4" font-size="5">65</text>
<text x="263.3" y="190.0" font-size="5">61</text>
<rect x="257.3" y="198.8" width="4.3" height="83.8" fill="url(#pg)" stroke="#333" stroke-width="0.3"/>
<text x="263.3" y="206.3" font-size="5">350</text>
<text x="263.3" y="227.5" font-size="5">300</text>
<text x="263.3" y="248.7" font-size="5">250</text>
<text x="263.3" y="269.9" font-size="5">200</text>
<text x="263.3" y="282.9" font-size="5">165</text>
<rect x="521.2" y="10.1" width="4.8" height="83.6" fill="url(#pg)" stroke="#333" stroke-width="0.3"/>
<text x="527.8" y="12.3" font-size="5">2.2</text>
<text x="527.8" y="33.2" font-size="5">1.81</text>
<text x="527.8" y="54.1" font-size="5">1.43</text>
<text x="527.8" y="75.0" font-size="5">1.04</text>
<text x="527.8" y="95.9" font-size="5">0.65</text>
<rect x="521.2" y="104.2" width="4.8" height="83.6" fill="url(#pg)" stroke="#333" stroke-width="0.3"/>
<text x="527.8" y="106.4" font-size="5">7.943</text>
<text x="527.8" y="134.3" font-size="5">7.94</text>
<text x="527.8" y="162.1" font-size="5">7.937</text>
<text x="527.8" y="190.0" font-size="5">7.934</text>
<rect x="521.2" y="198.8" width="4.8" height="83.8" fill="url(#pg)" stroke="#333" stroke-width="0.3"/>
<text x="527.8" y="201.0" font-size="5">75</text>
<text x="527.8" y="209.2" font-size="5">70</text>
<text x="527.8" y="225.6" font-size="5">60</text>
<text x="527.8" y="242.1" font-size="5">50</text>
<text x="527.8" y="258.5" font-size="5">40</text>
<text x="527.8" y="271.7" font-size="5">32</text>
<text x="527.8" y="282.8" font-size="5">24</text>
<text x="275.4" y="59.6" font-size="6.6" font-weight="bold" transform="rotate(-90 275.4 59.6)">F<tspan font-size="5" dy="1.7">z</tspan></text>
<text x="275.4" y="49.1" font-size="6.6" font-weight="bold" transform="rotate(-90 275.4 49.1)">(N)</text>
<text x="277.8" y="142.4" font-size="6" text-anchor="middle" transform="rotate(-90 277.8 142.4)">Electrical power (W)</text>
<text x="277.6" y="241.0" font-size="6" text-anchor="middle" transform="rotate(-90 277.6 241.0)">Torque (N/mm)</text>
<text x="545.8" y="46.6" font-size="6" text-anchor="middle" transform="rotate(-90 545.8 46.6)">Ra(µm)</text>
<text x="546.6" y="141.3" font-size="6" text-anchor="middle" transform="rotate(-90 546.6 141.3)">Ø (mm)</text>
<text x="547.6" y="239.0" font-size="6" text-anchor="middle" transform="rotate(-90 547.6 239.0)">C (µm)</text>
</g>
<rect x="23.3" y="10.1" width="231.2" height="83.6" fill="none" stroke="#262626" stroke-opacity="0.55" stroke-width="0.4"/>
<rect x="23.3" y="104.2" width="231.2" height="83.6" fill="none" stroke="#262626" stroke-opacity="0.55" stroke-width="0.4"/>
<rect x="23.3" y="198.8" width="231.2" height="83.8" fill="none" stroke="#262626" stroke-opacity="0.55" stroke-width="0.4"/>
<rect x="287.4" y="10.1" width="231.4" height="83.6" fill="none" stroke="#262626" stroke-opacity="0.55" stroke-width="0.4"/>
<rect x="287.4" y="104.2" width="231.4" height="83.6" fill="none" stroke="#262626" stroke-opacity="0.55" stroke-width="0.4"/>
<rect x="287.4" y="198.8" width="231.4" height="83.8" fill="none" stroke="#262626" stroke-opacity="0.55" stroke-width="0.4"/>
</svg>
</body></html>
